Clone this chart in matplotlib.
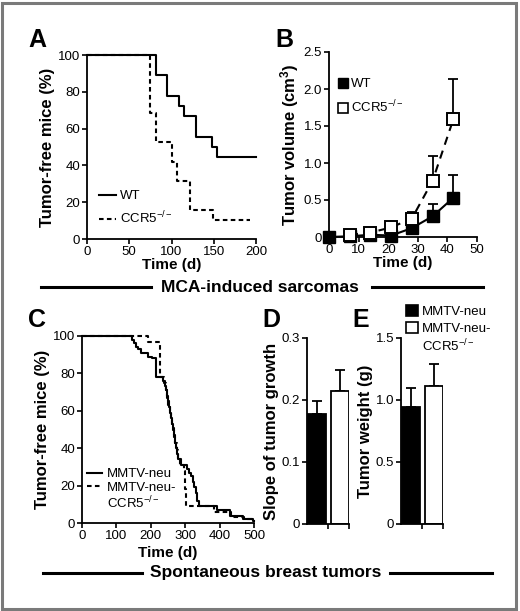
import matplotlib
matplotlib.use("Agg")
import matplotlib.pyplot as plt
from matplotlib.lines import Line2D
from matplotlib.patches import Patch, Rectangle

plt.rcParams["font.family"] = ["Liberation Sans", "DejaVu Sans"]
plt.rcParams["mathtext.default"] = "regular"
plt.rcParams.update({
    "axes.linewidth": 1.3,
    "xtick.major.width": 1.2,
    "ytick.major.width": 1.2,
    "xtick.major.size": 3.5,
    "ytick.major.size": 3.5,
    "xtick.direction": "out",
    "ytick.direction": "out",
    "xtick.labelsize": 9.5,
    "ytick.labelsize": 9.5,
    "xtick.major.pad": 1.5,
    "ytick.major.pad": 1.5,
})

# ---- A: MCA-induced sarcomas, tumor-free survival ----
a_wt_days = [0, 82, 95, 109, 115, 129, 148, 154, 200]
a_wt_free = [100, 88.9, 77.8, 72.2, 66.7, 55.6, 50.0, 44.4, 44.4]
a_ko_days = [0, 75, 82, 101, 107, 122, 149, 193]
a_ko_free = [100, 68.4, 52.6, 42.1, 31.6, 15.8, 10.5, 10.5]

# ---- B: tumor volume ----
b_wt_days = [0, 7, 14, 21, 28, 35, 42]
b_wt_vol = [0, 0.01, 0.03, 0.02, 0.12, 0.28, 0.53]
b_wt_err = [0, 0, 0, 0.01, 0.04, 0.17, 0.31]
b_ko_days = [7, 14, 21, 28, 35, 42]
b_ko_vol = [0.03, 0.06, 0.13, 0.25, 0.76, 1.59]
b_ko_err = [0.01, 0.01, 0.02, 0.09, 0.33, 0.55]

# ---- C: spontaneous breast tumors, tumor-free survival ----
c_neu_days = [0, 144, 150, 157, 163, 172, 193, 203, 215, 236, 241, 244, 247,
              250, 253, 256, 259, 262, 265, 268, 271, 274, 277, 280, 287, 304,
              310, 316, 322, 327, 331, 335, 339, 391, 430, 469, 498, 500]
c_neu_free = [100, 98, 96, 94, 93, 91, 89, 88, 78, 76, 73, 71, 68,
              65, 62, 59, 56, 53, 50, 46, 43, 40, 37, 34, 31, 29,
              27, 25, 22, 19, 16, 12, 9, 7, 4, 2, 1, 1]
c_ko_days = [0, 193, 227, 238, 243, 247, 251, 255, 259, 263, 267, 271, 275,
             280, 286, 296, 299, 302, 385, 432, 470, 495]
c_ko_free = [100, 97, 78, 75, 71, 67, 63, 59, 55, 51, 47, 43, 39,
             35, 31, 28, 18, 9, 6, 3, 2, 2]

# ---- D / E: bar charts ----
groups = ["MMTV-neu", "MMTV-neu-"]
ko_suffix = "CCR5$^{-/-}$"
bar_colors = ["black", "white"]
d_slope = [0.178, 0.215]
d_err = [0.021, 0.034]
e_weight = [0.947, 1.111]
e_err = [0.148, 0.177]

W, H = 520, 611
fig = plt.figure(figsize=(W / 100, H / 100), dpi=100)


def add_ax(left, top, right, bottom):
    # pixel box -> figure fraction
    return fig.add_axes([left / W, 1 - bottom / H, (right - left) / W, (bottom - top) / H])


def style(ax):
    ax.spines["top"].set_visible(False)
    ax.spines["right"].set_visible(False)
    ax.set_facecolor("none")


LBL = dict(fontsize=12, fontweight="bold", labelpad=2)
XLBL = dict(fontsize=11, fontweight="bold", labelpad=0)
DASH_KM = (0, (2.2, 1.6))
blank = Line2D([], [], color="none")

# A
ax_a = add_ax(87, 55, 256, 239)
ax_a.plot(a_wt_days, a_wt_free, color="black", lw=1.5, drawstyle="steps-post",
          clip_on=False, label="WT")
ax_a.plot(a_ko_days, a_ko_free, color="black", lw=1.5, ls=DASH_KM,
          drawstyle="steps-post", clip_on=False, label=ko_suffix)
ax_a.set_xlim(0, 200)
ax_a.set_ylim(0, 100)
ax_a.set_xticks([0, 50, 100, 150, 200])
ax_a.set_yticks([0, 20, 40, 60, 80, 100])
ax_a.set_ylabel("Tumor-free mice (%)", **LBL)
ax_a.set_xlabel("Time (d)", **XLBL)
ax_a.legend(loc="lower left", bbox_to_anchor=(0.07, 0.07), frameon=False,
            fontsize=9.5, handlelength=1.3, handletextpad=0.3, labelspacing=0.55,
            borderpad=0, borderaxespad=0)
style(ax_a)

# B
ax_b = add_ax(329, 52, 477, 237)
ax_b.errorbar(b_wt_days, b_wt_vol, yerr=[[0] * len(b_wt_err), b_wt_err], fmt="none",
              ecolor="black", elinewidth=1.3, capsize=3.5, capthick=1.3, zorder=2, clip_on=False)
ax_b.errorbar(b_ko_days, b_ko_vol, yerr=[[0] * len(b_ko_err), b_ko_err], fmt="none",
              ecolor="black", elinewidth=1.3, capsize=3.5, capthick=1.3, zorder=2, clip_on=False)
ax_b.plot(b_wt_days, b_wt_vol, color="black", lw=1.5, marker="s", ms=8,
          mfc="black", mec="black", zorder=3, clip_on=False)
ax_b.plot(b_ko_days, b_ko_vol, color="black", lw=1.5, ls=(0, (4, 3)), marker="s", ms=8,
          mfc="white", mec="black", mew=1.4, zorder=4, clip_on=False)
ax_b.set_xlim(0, 50)
ax_b.set_ylim(0, 2.5)
ax_b.set_xticks([0, 10, 20, 30, 40, 50])
ax_b.set_yticks([0, 0.5, 1.0, 1.5, 2.0, 2.5])
ax_b.set_yticklabels(["0", "0.5", "1.0", "1.5", "2.0", "2.5"])
ax_b.set_ylabel("Tumor volume (cm$^3$)", **LBL)
ax_b.set_xlabel("Time (d)", **XLBL)
b_handles = [Line2D([], [], ls="none", marker="s", ms=7, mfc="black", mec="black"),
             Line2D([], [], ls="none", marker="s", ms=7, mfc="white", mec="black", mew=1.2)]
ax_b.legend(b_handles, ["WT", ko_suffix], loc="upper left", bbox_to_anchor=(0.07, 0.86),
            frameon=False, fontsize=9.5, handlelength=0.6, handletextpad=0.25,
            labelspacing=0.65, borderpad=0, borderaxespad=0)
style(ax_b)

# C
ax_c = add_ax(82, 336, 254, 523)
l_neu, = ax_c.plot(c_neu_days, c_neu_free, color="black", lw=1.5, drawstyle="steps-post",
                   clip_on=False)
l_ko, = ax_c.plot(c_ko_days, c_ko_free, color="black", lw=1.5, ls=DASH_KM,
                  drawstyle="steps-post", clip_on=False)
ax_c.set_xlim(0, 500)
ax_c.set_ylim(0, 100)
ax_c.set_xticks([0, 100, 200, 300, 400, 500])
ax_c.set_yticks([0, 20, 40, 60, 80, 100])
ax_c.set_ylabel("Tumor-free mice (%)", **LBL)
ax_c.set_xlabel("Time (d)", fontsize=11, fontweight="bold", labelpad=3)
ax_c.legend([l_neu, l_ko, blank], groups + [ko_suffix], loc="lower left",
            bbox_to_anchor=(0.03, 0.06), frameon=False,
            fontsize=9.5, handlelength=1.1, handletextpad=0.4, labelspacing=0.1,
            borderpad=0, borderaxespad=0)
style(ax_c)

# D and E
xpos = [0, 1]
for box, vals, errs, ylim, ticks, tlabels, ylabel in [
        ((307, 338, 349, 524), d_slope, d_err, 0.3, [0, 0.1, 0.2, 0.3],
         ["0", "0.1", "0.2", "0.3"], "Slope of tumor growth"),
        ((401, 338, 443, 524), e_weight, e_err, 1.5, [0, 0.5, 1.0, 1.5],
         ["0", "0.5", "1.0", "1.5"], "Tumor weight (g)")]:
    ax = add_ax(*box)
    ax.bar(xpos, vals, width=0.8, color=bar_colors, edgecolor="black", lw=1.3, zorder=2)
    ax.errorbar(xpos, vals, yerr=[[0, 0], errs], fmt="none", ecolor="black",
                elinewidth=1.3, capsize=3.5, capthick=1.3, zorder=1)
    ax.set_xlim(-0.45, 1.42)
    ax.set_ylim(0, ylim)
    ax.set_xticks([0.5, 1.42])
    ax.set_xticklabels([])
    ax.set_yticks(ticks)
    ax.set_yticklabels(tlabels)
    ax.set_ylabel(ylabel, **LBL)
    style(ax)
    ax_e = ax

de_handles = [Patch(facecolor=c, edgecolor="black", lw=1.2) for c in bar_colors]
ax_e.legend(de_handles, groups, loc="upper left", bbox_to_anchor=(406 / W, 1 - 305 / H),
            bbox_transform=fig.transFigure, frameon=False, fontsize=9.5,
            handlelength=0.9, handleheight=0.9, handletextpad=0.3, labelspacing=0.3,
            borderpad=0, borderaxespad=0)
fig.text(422 / W, 1 - 346 / H, ko_suffix, fontsize=9.5, ha="left", va="center")

# panel letters
for letter, x, y in [("A", 28, 47), ("B", 275, 47), ("C", 28, 327), ("D", 262, 327), ("E", 352, 327)]:
    fig.text(x / W, 1 - y / H, letter, fontsize=18, fontweight="bold", ha="left", va="baseline")

# section titles with rules
for title, cx, y, segs in [("MCA-induced sarcomas", 260, 287, [(41, 151), (372, 483)]),
                           ("Spontaneous breast tumors", 266, 573, [(43, 142), (390, 492)])]:
    fig.text(cx / W, 1 - y / H, title, fontsize=12.5, fontweight="bold", ha="center", va="center")
    for x0, x1 in segs:
        fig.add_artist(Line2D([x0 / W, x1 / W], [1 - y / H, 1 - y / H], color="black", lw=2.2,
                              transform=fig.transFigure))

# outer frame
fig.add_artist(Rectangle((1.5 / W, 2.5 / H), 514 / W, 606 / H, transform=fig.transFigure,
                         fill=False, edgecolor="#7a7a7a", lw=2.2))

fig.savefig("out.png", dpi=100)
